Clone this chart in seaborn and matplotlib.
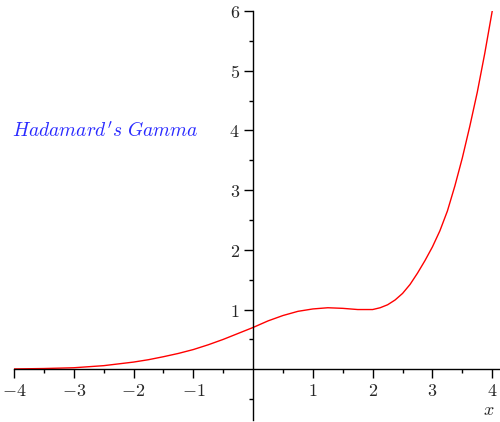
import matplotlib
matplotlib.use("Agg")
import matplotlib.pyplot as plt
import matplotlib.ticker as mticker
import seaborn as sns
import pandas as pd

# values
x_vals = [-4.0, -3.5, -3.0, -2.5, -2.0, -1.75, -1.5, -1.25, -1.0, -0.75, -0.5, -0.25,
          0.0, 0.25, 0.5, 0.75, 1.0, 1.25, 1.5, 1.75, 2.0, 2.125, 2.25, 2.375, 2.5,
          2.625, 2.75, 2.875, 3.0, 3.125, 3.25, 3.375, 3.5, 3.625, 3.75, 3.875, 4.0]
h_vals = [0.005, 0.012, 0.025, 0.06, 0.12, 0.16, 0.21, 0.265, 0.33, 0.41, 0.50, 0.60,
          0.70, 0.81, 0.90, 0.97, 1.01, 1.03, 1.02, 1.0, 1.0, 1.03, 1.08, 1.16, 1.27,
          1.42, 1.61, 1.82, 2.05, 2.32, 2.65, 3.07, 3.54, 4.07, 4.64, 5.29, 6.0]
x_major = [-4, -3, -2, -1, 1, 2, 3, 4]
x_minor = [-3.5, -2.5, -1.5, -0.5, 0.5, 1.5, 2.5, 3.5]
y_major = [1, 2, 3, 4, 5, 6]
y_minor = [-0.5, 0.5, 1.5, 2.5, 3.5, 4.5, 5.5]

df = pd.DataFrame({"x": x_vals, "H": h_vals})

sns.set_theme(style="white")
plt.rcParams["mathtext.fontset"] = "cm"

fig = plt.figure(figsize=(5, 4.22), dpi=100)
ax = fig.add_axes([14 / 500, 2 / 422, 486 / 500, 409 / 422])
sns.lineplot(data=df, x="x", y="H", color="red", linewidth=1.0, ax=ax)

ax.set_xlim(-4, 4.13)
ax.set_ylim(-0.85, 6)
ax.set_xlabel("")
ax.set_ylabel("")

for side in ["top", "right"]:
    ax.spines[side].set_visible(False)
ax.spines["left"].set_position(("data", 0))
ax.spines["bottom"].set_position(("data", 0))
for side in ["left", "bottom"]:
    ax.spines[side].set_color("black")
    ax.spines[side].set_linewidth(1.0)

fmt = mticker.FuncFormatter(lambda v, p: f"${v:g}$")
ax.xaxis.set_major_locator(mticker.FixedLocator(x_major))
ax.xaxis.set_minor_locator(mticker.FixedLocator(x_minor))
ax.yaxis.set_major_locator(mticker.FixedLocator(y_major))
ax.yaxis.set_minor_locator(mticker.FixedLocator(y_minor))
ax.xaxis.set_major_formatter(fmt)
ax.yaxis.set_major_formatter(fmt)
ax.tick_params(which="major", direction="out", length=6.5, width=1.0,
               color="black", labelsize=13, pad=3)
ax.tick_params(which="minor", direction="out", length=3.2, width=1.0, color="black")
ax.tick_params(axis="both", which="both", bottom=True, left=True)

ax.text(-4.04, 4.0, r"$\mathit{Hadamard's\ Gamma}$", color="#2a2aff",
        fontsize=14, ha="left", va="center")
ax.text(3.94, -0.68, r"$x$", fontsize=13, ha="center", va="center")

fig.savefig("out.png", dpi=100)
